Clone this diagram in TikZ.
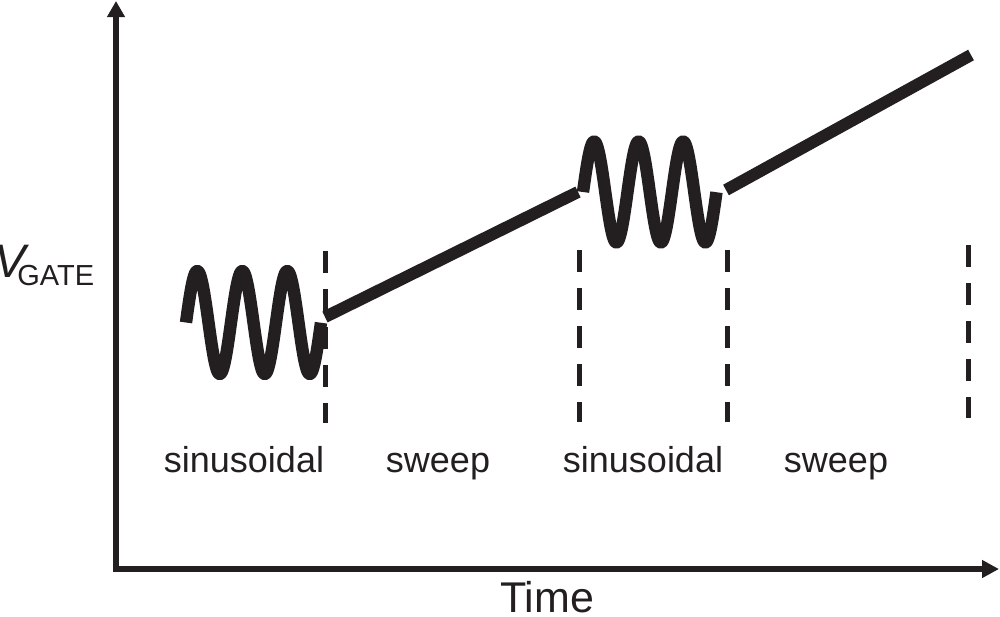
\documentclass[tikz,border=0pt]{standalone}
\usepackage{fontspec}
\setmainfont{Liberation Sans}
\usetikzlibrary{arrows.meta}
\definecolor{ink}{HTML}{231F20}
\tikzset{
  axis/.style={draw=ink, line width=2.8pt, line join=miter},
  wave/.style={draw=ink, line width=6.2pt, line cap=butt, line join=round},
  sweepline/.style={draw=ink, line width=6pt, line cap=butt},
  sep/.style={draw=ink, line width=2.5pt, dash pattern=on 11pt off 8pt},
  lbl/.style={anchor=base, inner sep=0pt, text=ink, font=\fontsize{18}{20}\selectfont},
}
\begin{document}
\begin{tikzpicture}[x=0.5pt, y=-0.5pt]
\useasboundingbox (0,0) rectangle (1000,616);
% axes
\coordinate (ytip) at (116,1);
\coordinate (O) at (116,569);
\coordinate (xtip) at (999,569);
\draw[axis, {Triangle[length=8pt,width=8.5pt]}-{Triangle[length=8.5pt,width=8.5pt]}] (ytip) -- (O) -- (xtip);
% sinusoid 1
\draw[wave] plot[domain=0:3, samples=181, smooth] ({186+45*\x},{322.5-51.5*sin(360*\x)});
% sweep 1
\coordinate (s1a) at (325,317);
\coordinate (s1b) at (578,192);
\draw[sweepline] (s1a) -- (s1b);
% sinusoid 2
\draw[wave] plot[domain=0:3, samples=181, smooth] ({583+44.5*\x},{192-50.5*sin(360*\x)});
% sweep 2
\coordinate (s2a) at (726,190);
\coordinate (s2b) at (971,55);
\draw[sweepline] (s2a) -- (s2b);
% separators
\coordinate (d1a) at (325,251); \coordinate (d1b) at (325,423);
\coordinate (d2a) at (579,250); \coordinate (d2b) at (579,422);
\coordinate (d3a) at (727,250); \coordinate (d3b) at (727,422);
\coordinate (d4a) at (968,245); \coordinate (d4b) at (968,418);
\draw[sep] (d1a) -- (d1b);
\draw[sep] (d2a) -- (d2b);
\draw[sep] (d3a) -- (d3b);
\draw[sep] (d4a) -- (d4b);
% labels
\node[lbl] (l1) at (244,472) {sinusoidal};
\node[lbl] (l2) at (438,472) {sweep};
\node[lbl] (l3) at (643,472) {sinusoidal};
\node[lbl] (l4) at (836,472) {sweep};
\node[anchor=base, inner sep=0pt, text=ink, font=\fontsize{21.5}{24}\selectfont] (time) at (547,612) {Time};
\node[anchor=base west, inner sep=0pt, text=ink, font=\fontsize{23.5}{26}\selectfont\itshape] (v) at (-6,277) {V};
\node[anchor=base west, inner sep=0pt, text=ink, font=\fontsize{14.5}{16}\selectfont] (gate) at (17,285) {GATE};
\end{tikzpicture}
\end{document}
